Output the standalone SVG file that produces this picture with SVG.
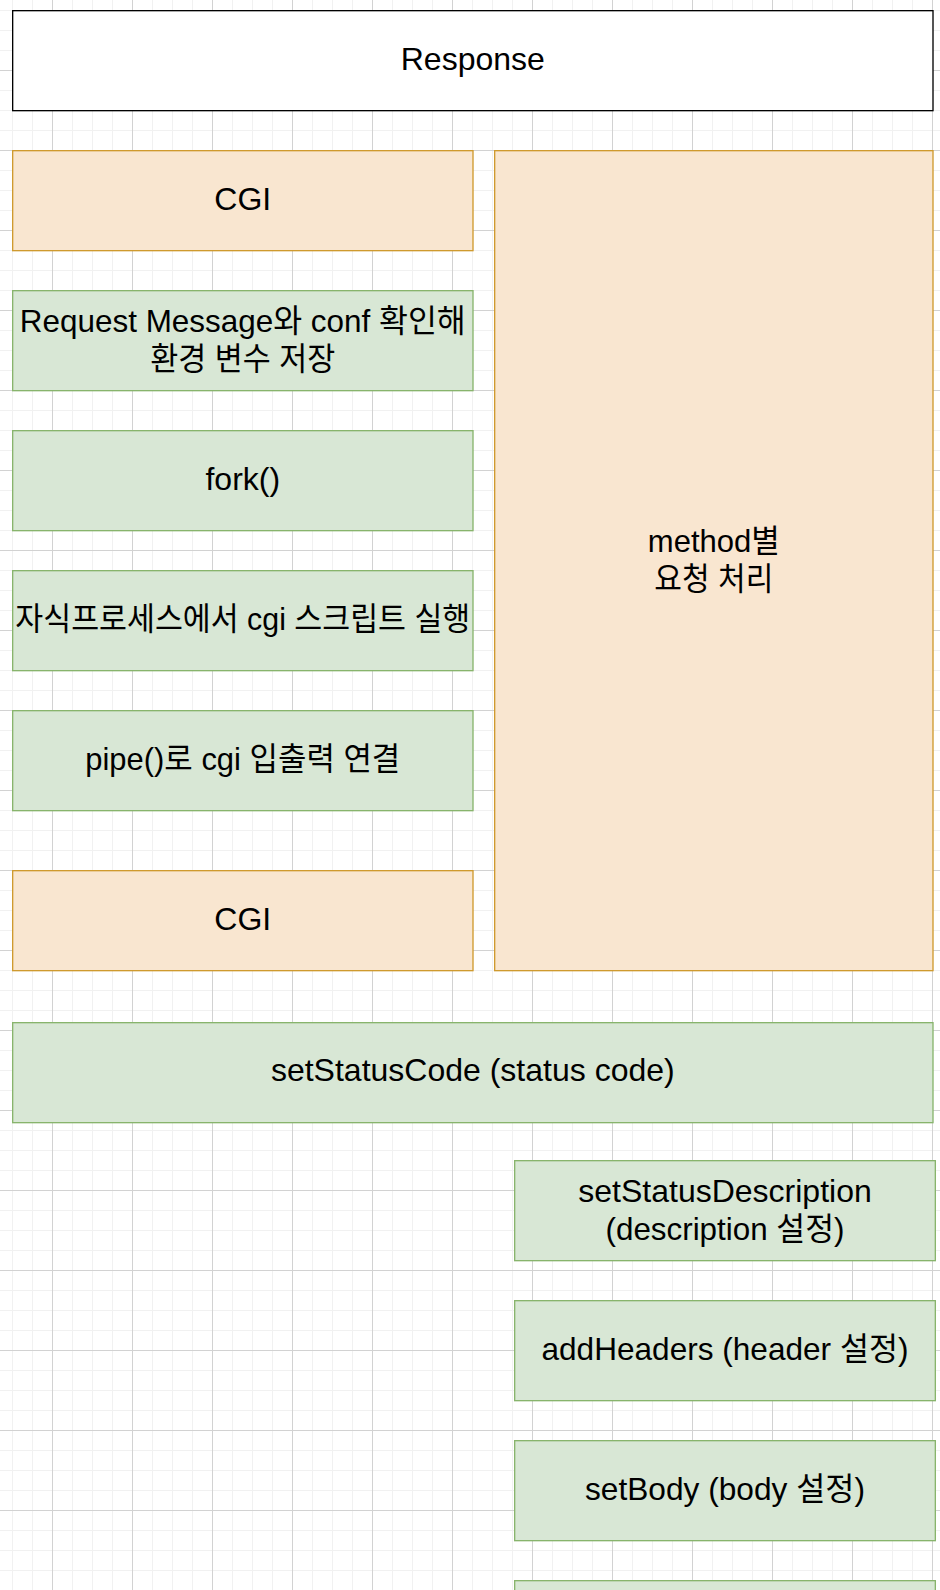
<svg xmlns="http://www.w3.org/2000/svg" width="940" height="1590" viewBox="0 0 940 1590">
  <defs>
    <pattern id="grid" patternUnits="userSpaceOnUse" x="52" y="70" width="80" height="80">
      <path d="M20.5 0V80M40.5 0V80M60.5 0V80M0 20.5H80M0 40.5H80M0 60.5H80" stroke="#f1f1f1" stroke-width="1" fill="none"/>
      <path d="M0.5 0V80M0 0.5H80" stroke="#d2d2d2" stroke-width="1" fill="none"/>
    </pattern>
  </defs>
  <style>
    .box { stroke-width: 1.33; }
    .plain { fill: #ffffff; stroke: #000000; }
    .orange { fill: #f9e6d0; stroke: #cf9a2e; }
    .green { fill: #d8e7d5; stroke: #88b46c; }
    text { font-family: "Liberation Sans", "Noto Sans CJK KR", Arial, sans-serif; font-size: 32px; fill: #000000; text-anchor: middle; }
  </style>
  <rect x="0" y="0" width="940" height="1590" fill="#ffffff"/>
  <rect x="0" y="0" width="940" height="1590" fill="url(#grid)"/>

  <g id="connectors"></g>

  <g id="response">
    <rect class="box plain" x="12.67" y="10.67" width="920.33" height="100"/>
    <text x="472.8" y="69.7">Response</text>
  </g>
  <g id="cgi-top">
    <rect class="box orange" x="12.67" y="150.67" width="460.33" height="100"/>
    <text x="242.8" y="209.7">CGI</text>
  </g>
  <g id="method">
    <rect class="box orange" x="494.67" y="150.67" width="438.33" height="820"/>
    <text x="713.8" y="551.7" textLength="132" lengthAdjust="spacingAndGlyphs">method별</text>
    <text x="713.8" y="589.7" textLength="119" lengthAdjust="spacingAndGlyphs">요청 처리</text>
  </g>
  <g id="request-env">
    <rect class="box green" x="12.67" y="290.67" width="460.33" height="100"/>
    <text x="242.8" y="331.7" textLength="446" lengthAdjust="spacingAndGlyphs">Request Message와 conf 확인해</text>
    <text x="242.8" y="369.7" textLength="185" lengthAdjust="spacingAndGlyphs">환경 변수 저장</text>
  </g>
  <g id="fork">
    <rect class="box green" x="12.67" y="430.67" width="460.33" height="100"/>
    <text x="242.8" y="489.7">fork()</text>
  </g>
  <g id="child-exec">
    <rect class="box green" x="12.67" y="570.67" width="460.33" height="100"/>
    <text x="242.8" y="629.7" textLength="455" lengthAdjust="spacingAndGlyphs">자식프로세스에서 cgi 스크립트 실행</text>
  </g>
  <g id="pipe">
    <rect class="box green" x="12.67" y="710.67" width="460.33" height="100"/>
    <text x="242.8" y="769.7" textLength="315" lengthAdjust="spacingAndGlyphs">pipe()로 cgi 입출력 연결</text>
  </g>
  <g id="cgi-bottom">
    <rect class="box orange" x="12.67" y="870.67" width="460.33" height="100"/>
    <text x="242.8" y="929.7">CGI</text>
  </g>
  <g id="set-status-code">
    <rect class="box green" x="12.67" y="1022.67" width="920.33" height="100"/>
    <text x="472.8" y="1081.2">setStatusCode (status code)</text>
  </g>
  <g id="set-status-description">
    <rect class="box green" x="514.67" y="1160.67" width="420.67" height="100"/>
    <text x="725" y="1201.7">setStatusDescription</text>
    <text x="725" y="1239.7" textLength="239" lengthAdjust="spacingAndGlyphs">(description 설정)</text>
  </g>
  <g id="add-headers">
    <rect class="box green" x="514.67" y="1300.67" width="420.67" height="100"/>
    <text x="725" y="1359.7" textLength="367" lengthAdjust="spacingAndGlyphs">addHeaders (header 설정)</text>
  </g>
  <g id="set-body">
    <rect class="box green" x="514.67" y="1440.67" width="420.67" height="100"/>
    <text x="725" y="1499.7" textLength="280" lengthAdjust="spacingAndGlyphs">setBody (body 설정)</text>
  </g>
  <g id="next-step">
    <rect class="box green" x="514.67" y="1580.67" width="420.67" height="100"/>
  </g>
</svg>
